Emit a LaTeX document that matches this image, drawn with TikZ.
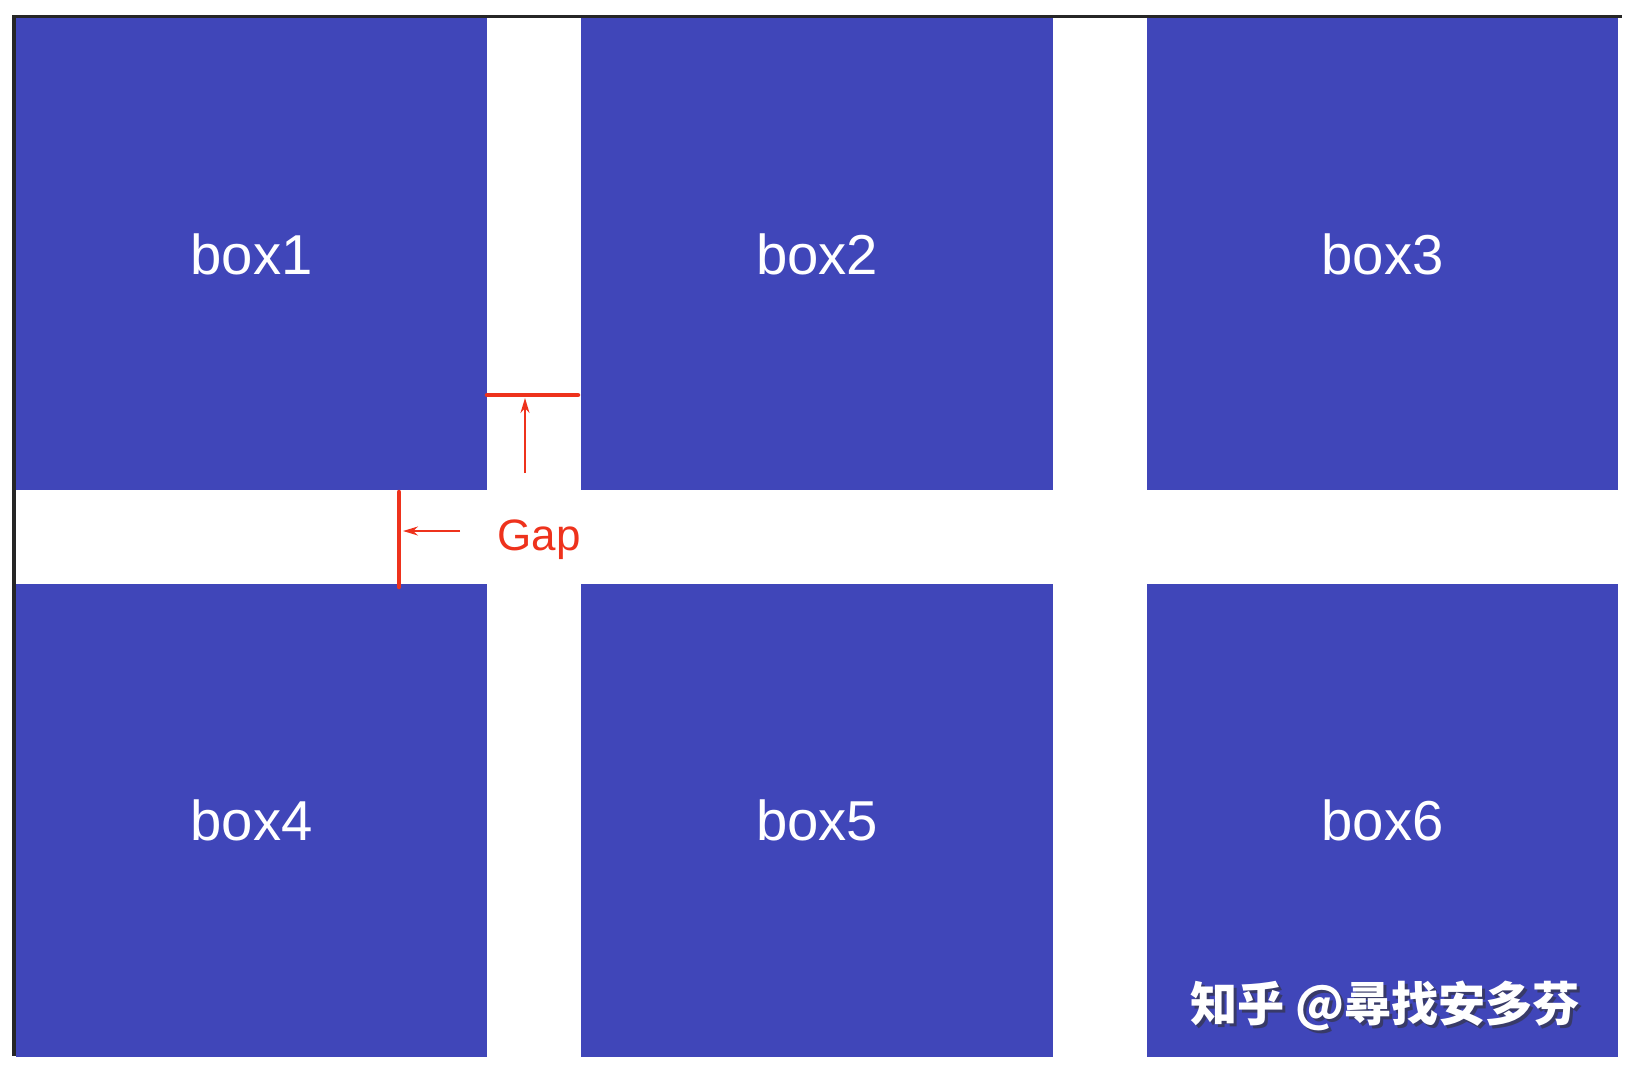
\documentclass[tikz,border=0pt]{standalone}
\usepackage{fontspec}
\setmainfont{Liberation Sans}
\newfontfamily\cjk{Noto Sans CJK SC}
\usetikzlibrary{arrows.meta}
\definecolor{boxblue}{RGB}{64,70,185}
\definecolor{gapred}{RGB}{238,50,28}
\begin{document}
\begin{tikzpicture}[x=0.01cm, y=-0.01cm,
	gridbox/.style={rectangle, fill=boxblue, text=white, minimum width=4.71cm, minimum height=4.72cm, inner sep=0pt, font=\fontsize{16}{19}\selectfont},
	marker/.style={gapred, line width=0.045cm, line cap=round},
	pointer/.style={gapred, line width=0.018cm, -{Stealth[length=0.15cm, width=0.09cm]}},
	stamp/.style={font=\cjk\bfseries\fontsize{13.4}{16}\selectfont}]
	\useasboundingbox (0,0) rectangle (1630,1072);

	% Container frame
	\draw[line width=0.03cm, black!85] (12,16) -- (1622,16);
	\draw[line width=0.04cm, black!85] (14,15) -- (14,1056);

	% First row
	\node[gridbox] (box1) at (251.5,254) {box1};
	\node[gridbox] (box2) at (817,254) {box2};
	\node[gridbox] (box3) at (1382.5,254) {box3};

	% Second row
	\node[gridbox] (box4) at (251.5,820.5) {box4};
	\node[gridbox] (box5) at (817,820.5) {box5};
	\node[gridbox] (box6) at (1382.5,820.5) {box6};

	% Column gap marker
	\coordinate (colstart) at (487,395);
	\coordinate (colend) at (578,395);
	\draw[marker] (colstart) -- (colend);
	\coordinate (uptail) at (525,473);
	\coordinate (uptip) at (525,398);
	\draw[pointer] (uptail) -- (uptip);

	% Row gap marker
	\coordinate (rowstart) at (399,492);
	\coordinate (rowend) at (399,587);
	\draw[marker] (rowstart) -- (rowend);
	\coordinate (lefttail) at (460,531);
	\coordinate (lefttip) at (403,531);
	\draw[pointer] (lefttail) -- (lefttip);

	% Label
	\node[anchor=base west, inner sep=0pt, text=gapred, font=\fontsize{12.5}{15}\selectfont] (gaplabel) at (497,550) {Gap};

	% Watermark
	\node[stamp, text=black!80, opacity=0.6] (markshadow) at (1388,1009) {知乎 @尋找安多芬};
	\node[stamp, text=white] (watermark) at (1385,1006) {知乎 @尋找安多芬};
\end{tikzpicture}
\end{document}
